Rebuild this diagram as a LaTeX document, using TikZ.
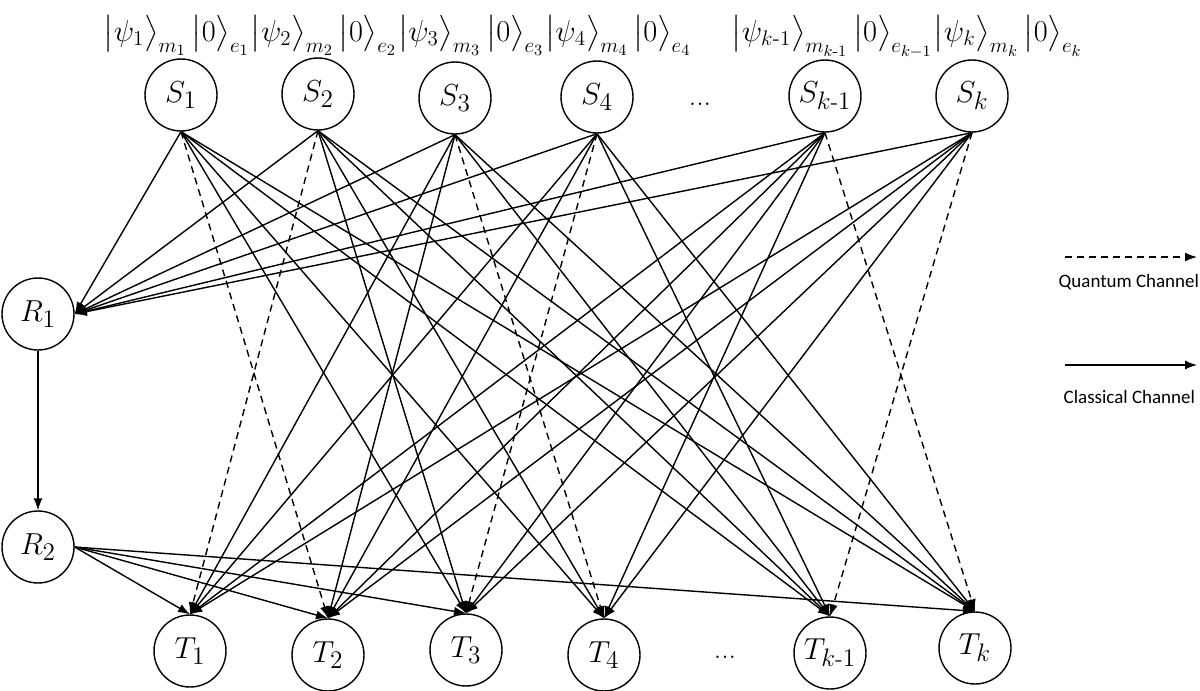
\documentclass[tikz,border=0pt]{standalone}
\usepackage{amsmath}
\usepackage{fontspec}
\newfontfamily\legendfont{Carlito}
\usetikzlibrary{arrows.meta}
\newcommand{\km}{k\text{-}1}
\newcommand{\ketpair}[2]{\bigl|\psi_{#1}\bigr\rangle_{m_{#1}}\,\bigl|0\bigr\rangle_{e_{#2}}}

\begin{document}
\begin{tikzpicture}[x=0.02cm, y=-0.02cm, line width=0.8pt,
    >={Latex[length=2.4mm, width=1.8mm]},
    party/.style={draw, circle, minimum size=1.44cm, inner sep=0pt, font=\fontsize{19}{22}\selectfont},
    ket/.style={anchor=base west, inner sep=0pt, font=\fontsize{18.5}{22}\selectfont},
    quantum/.style={->, dash pattern=on 1.4mm off 1mm},
    classical/.style={->},
    legend/.style={anchor=west, inner sep=0pt, font=\legendfont\fontsize{10.8}{13}\selectfont}]
    \useasboundingbox (0, 0) rectangle (1200, 690);

    % senders
    \node[party] (S1) at (181, 95) {$S_1$};
    \node[party] (S2) at (318, 94) {$S_2$};
    \node[party] (S3) at (455, 98) {$S_3$};
    \node[party] (S4) at (597, 97) {$S_4$};
    \node[font=\fontsize{17}{20}\selectfont] (sdots) at (700, 104) {...};
    \node[party] (S5) at (825, 96) {$S_{\km}$};
    \node[party] (S6) at (972, 96) {$S_k$};

    % states
    \node[ket] (K1) at (103, 41) {$\ketpair{1}{1}$};
    \node[ket] (K2) at (K1.base east) {$\ketpair{2}{2}$};
    \node[ket] (K3) at (K2.base east) {$\ketpair{3}{3}$};
    \node[ket] (K4) at (K3.base east) {$\ketpair{4}{4}$};
    \node[ket] (K5) at (731, 41) {$\ketpair{\km}{k-1}$};
    \node[ket] (K6) at (K5.base east) {$\ketpair{k}{k}$};

    % relays
    \node[party] (R1) at (38, 314) {$R_1$};
    \node[party] (R2) at (38, 547) {$R_2$};

    % receivers
    \node[party] (T1) at (190, 651) {$T_1$};
    \node[party] (T2) at (328, 655) {$T_2$};
    \node[party] (T3) at (466, 650) {$T_3$};
    \node[party] (T4) at (604, 655) {$T_4$};
    \node[font=\fontsize{17}{20}\selectfont] (tdots) at (725, 657) {...};
    \node[party] (T5) at (830, 653) {$T_{\km}$};
    \node[party] (T6) at (975, 648) {$T_k$};

    % channels
    \draw[classical] (R1) -- (R2);
    \foreach \i in {1,...,6} \draw[classical] (S\i.south) -- (R1.east);
    \foreach \i/\p in {1/2, 2/1, 3/4, 4/3, 5/6, 6/5} \draw[quantum] (S\i.south) -- (T\p.north);
    \foreach \i in {1,2} \foreach \j in {3,4,5,6} \draw[classical] (S\i.south) -- (T\j.north);
    \foreach \i in {3,4} \foreach \j in {1,2,5,6} \draw[classical] (S\i.south) -- (T\j.north);
    \foreach \i in {5,6} \foreach \j in {1,2,3,4} \draw[classical] (S\i.south) -- (T\j.north);
    \foreach \j in {1,2,3,6} \draw[classical] (R2.east) -- (T\j.north);

    % legend
    \coordinate (q0) at (1065, 257);
    \coordinate (q1) at (1197, 257);
    \draw[quantum] (q0) -- (q1);
    \node[legend] (qlabel) at (1058, 282) {Quantum Channel};
    \coordinate (c0) at (1065, 365);
    \coordinate (c1) at (1197, 365);
    \draw[classical] (c0) -- (c1);
    \node[legend] (clabel) at (1063, 397) {Classical Channel};
\end{tikzpicture}
\end{document}
